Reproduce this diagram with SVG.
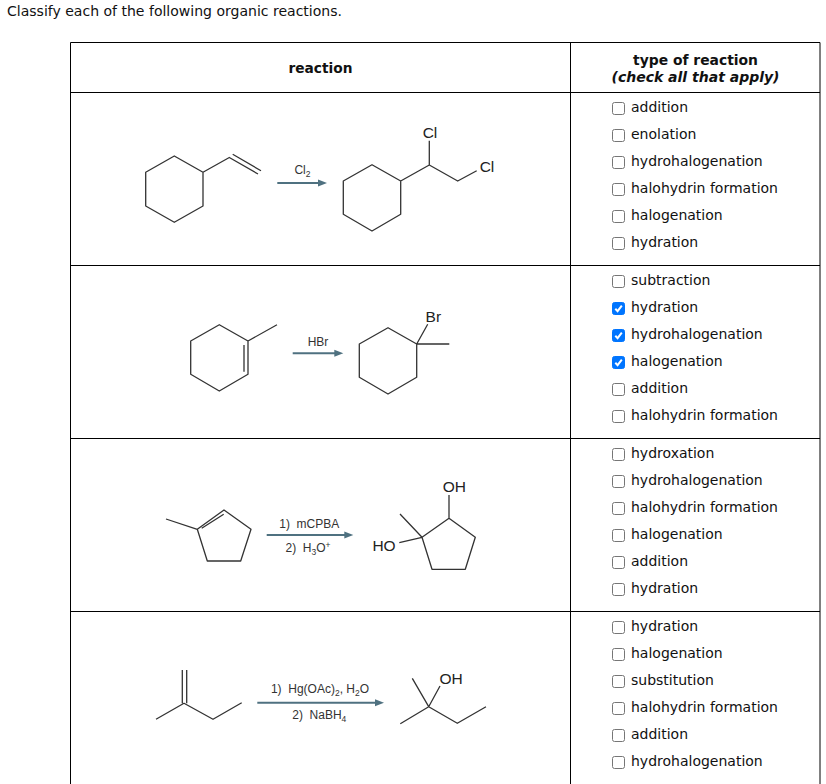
<svg xmlns="http://www.w3.org/2000/svg" width="826" height="784" viewBox="0 0 826 784">
<defs>
<style>
.t{font-family:"DejaVu Sans","Liberation Sans",sans-serif;font-size:14px;fill:#111}
.b{font-weight:bold;text-anchor:middle}
.c{font-family:"Liberation Sans",Arial,sans-serif;font-size:15.500px;fill:#222;text-anchor:middle}
.r{font-family:"Liberation Sans",Arial,sans-serif;font-size:12px;fill:#333;text-anchor:middle}
.s{font-size:8.500px}
.m{fill:none;stroke:#333;stroke-width:1.300;stroke-linejoin:round}
.g{stroke:#4f7180;stroke-width:2;fill:none}
.h{fill:#4f7180}
.l{stroke:#000;stroke-width:1;fill:none}
.x{fill:#fff;stroke:#767676;stroke-width:1}
.y{fill:#0075ff;stroke:#0075ff;stroke-width:1}
.k{fill:none;stroke:#fff;stroke-width:2}
</style>
<g id="box"><rect class="x" x="612.500" y="-6.500" width="12" height="12" rx="2"/></g>
<g id="chk"><rect class="y" x="612.500" y="-6.500" width="12" height="12" rx="2"/><path class="k" d="M615.300 -.3l2.300 2.400 4.200-5.400"/></g>
</defs>
<rect width="826" height="784" fill="#fff"/>
<text id="title" class="t" x="7" y="16" textLength="335" lengthAdjust="spacingAndGlyphs">Classify each of the following organic reactions.</text>
<g id="table" class="l">
<path class="l" d="M70.500 784V42.500H820V784M570.500 42.500V784M70.500 92.500H820M70.500 265.500H820M70.500 438.500H820M70.500 611.500H820"/>
</g>
<g id="header">
<text class="t b" x="320.500" y="73" textLength="64" lengthAdjust="spacingAndGlyphs">reaction</text>
<text class="t b" x="695.500" y="65" textLength="125" lengthAdjust="spacingAndGlyphs">type of reaction</text>
<text class="t b" x="695.500" y="82" font-style="italic" textLength="168" lengthAdjust="spacingAndGlyphs">(check all that apply)</text>
</g>
<g id="connectors">
<path class="g" d="M277.300 183H320"/><path class="h" d="M327 183l-9-3.500v7z"/>
<path class="g" d="M292.700 353.300H336"/><path class="h" d="M343.300 353.300l-9-3.500v7z"/>
<path class="g" d="M266.700 535H346"/><path class="h" d="M353.300 535l-9-3.500v7z"/>
<path class="g" d="M257.300 702.700H377"/><path class="h" d="M384 702.700l-9-3.500v7z"/>
</g>
<g id="reaction1">
<path class="m" d="M174.300 156L203 172.300V206L174.300 222.300 145.700 206V172.300ZM203 172.300L229.300 157.500 258 174M232.700 154.300L261 170.700"/>
<text class="r" x="302.500" y="174">Cl<tspan class="s" dy="2.500">2</tspan></text>
<path class="m" d="M372 164.700L400.700 181V214.300L372 231 343.300 214.300V181ZM400.700 181L429.300 165V140.700M429.300 165L457.700 181 476.700 170.700"/>
<text class="c" x="430" y="137.500">Cl</text>
<text class="c" x="487" y="171.500">Cl</text>
</g>
<g id="reaction2">
<path class="m" d="M219.300 324.700L248 341V374.300L219.300 391 190.700 374.300V341ZM248 341L277 324.700M244 345V371.700"/>
<text class="r" x="318" y="346">HBr</text>
<path class="m" d="M388 327.700L416.700 344V377.300L388 394 359.300 377.300V344ZM416.700 344H449.300M416.700 344L427.700 324.300"/>
<text class="c" x="433.300" y="321.500">Br</text>
</g>
<g id="reaction3">
<path class="m" d="M224 510L251 529.300 240.700 561H207.300L197.300 529.300ZM197.300 529.300L166 519M201.700 528.300L223.700 514.300"/>
<text class="r" x="309.300" y="528">1)&#160; mCPBA</text>
<text class="r" x="308" y="552">2)&#160; H<tspan class="s" dy="2.500">3</tspan><tspan dy="-2.500">O</tspan><tspan class="s" dy="-4">+</tspan></text>
<path class="m" d="M449 518.300L475.300 537.300 465.300 569.300H432L422 537.300ZM449 518.300V495M422 537.300L400 514M422 537.300L399.300 542.700"/>
<text class="c" x="454.300" y="492">OH</text>
<text class="c" x="384" y="550.500">HO</text>
</g>
<g id="reaction4">
<path class="m" d="M156 719.300L184 703.300 213 719.300 241.700 702.700M182.300 703.300V670M186.700 703.300V670"/>
<text class="r" x="320" y="693">1)&#160; Hg(OAc)<tspan class="s" dy="2.500">2</tspan><tspan dy="-2.500">, H</tspan><tspan class="s" dy="2.500">2</tspan><tspan dy="-2.500">O</tspan></text>
<text class="r" x="319.300" y="719">2)&#160; NaBH<tspan class="s" dy="2.500">4</tspan></text>
<path class="m" d="M400.300 723.700L428.700 706.700 457.300 723.300 486 706.700M428.700 706.700L412.300 678.300M428.700 706.700L440 686"/>
<text class="c" x="451" y="683.500">OH</text>
</g>
<g id="options1">
<use href="#box" y="109"/><text class="t" x="631" y="112">addition</text>
<use href="#box" y="136"/><text class="t" x="631" y="139">enolation</text>
<use href="#box" y="163"/><text class="t" x="631" y="166">hydrohalogenation</text>
<use href="#box" y="190"/><text class="t" x="631" y="193">halohydrin formation</text>
<use href="#box" y="217"/><text class="t" x="631" y="220">halogenation</text>
<use href="#box" y="244"/><text class="t" x="631" y="247">hydration</text>
</g>
<g id="options2">
<use href="#box" y="282"/><text class="t" x="631" y="285">subtraction</text>
<use href="#chk" y="309"/><text class="t" x="631" y="312">hydration</text>
<use href="#chk" y="336"/><text class="t" x="631" y="339">hydrohalogenation</text>
<use href="#chk" y="363"/><text class="t" x="631" y="366">halogenation</text>
<use href="#box" y="390"/><text class="t" x="631" y="393">addition</text>
<use href="#box" y="417"/><text class="t" x="631" y="420">halohydrin formation</text>
</g>
<g id="options3">
<use href="#box" y="455"/><text class="t" x="631" y="458">hydroxation</text>
<use href="#box" y="482"/><text class="t" x="631" y="485">hydrohalogenation</text>
<use href="#box" y="509"/><text class="t" x="631" y="512">halohydrin formation</text>
<use href="#box" y="536"/><text class="t" x="631" y="539">halogenation</text>
<use href="#box" y="563"/><text class="t" x="631" y="566">addition</text>
<use href="#box" y="590"/><text class="t" x="631" y="593">hydration</text>
</g>
<g id="options4">
<use href="#box" y="628"/><text class="t" x="631" y="631">hydration</text>
<use href="#box" y="655"/><text class="t" x="631" y="658">halogenation</text>
<use href="#box" y="682"/><text class="t" x="631" y="685">substitution</text>
<use href="#box" y="709"/><text class="t" x="631" y="712">halohydrin formation</text>
<use href="#box" y="736"/><text class="t" x="631" y="739">addition</text>
<use href="#box" y="763"/><text class="t" x="631" y="766">hydrohalogenation</text>
</g>
</svg>
